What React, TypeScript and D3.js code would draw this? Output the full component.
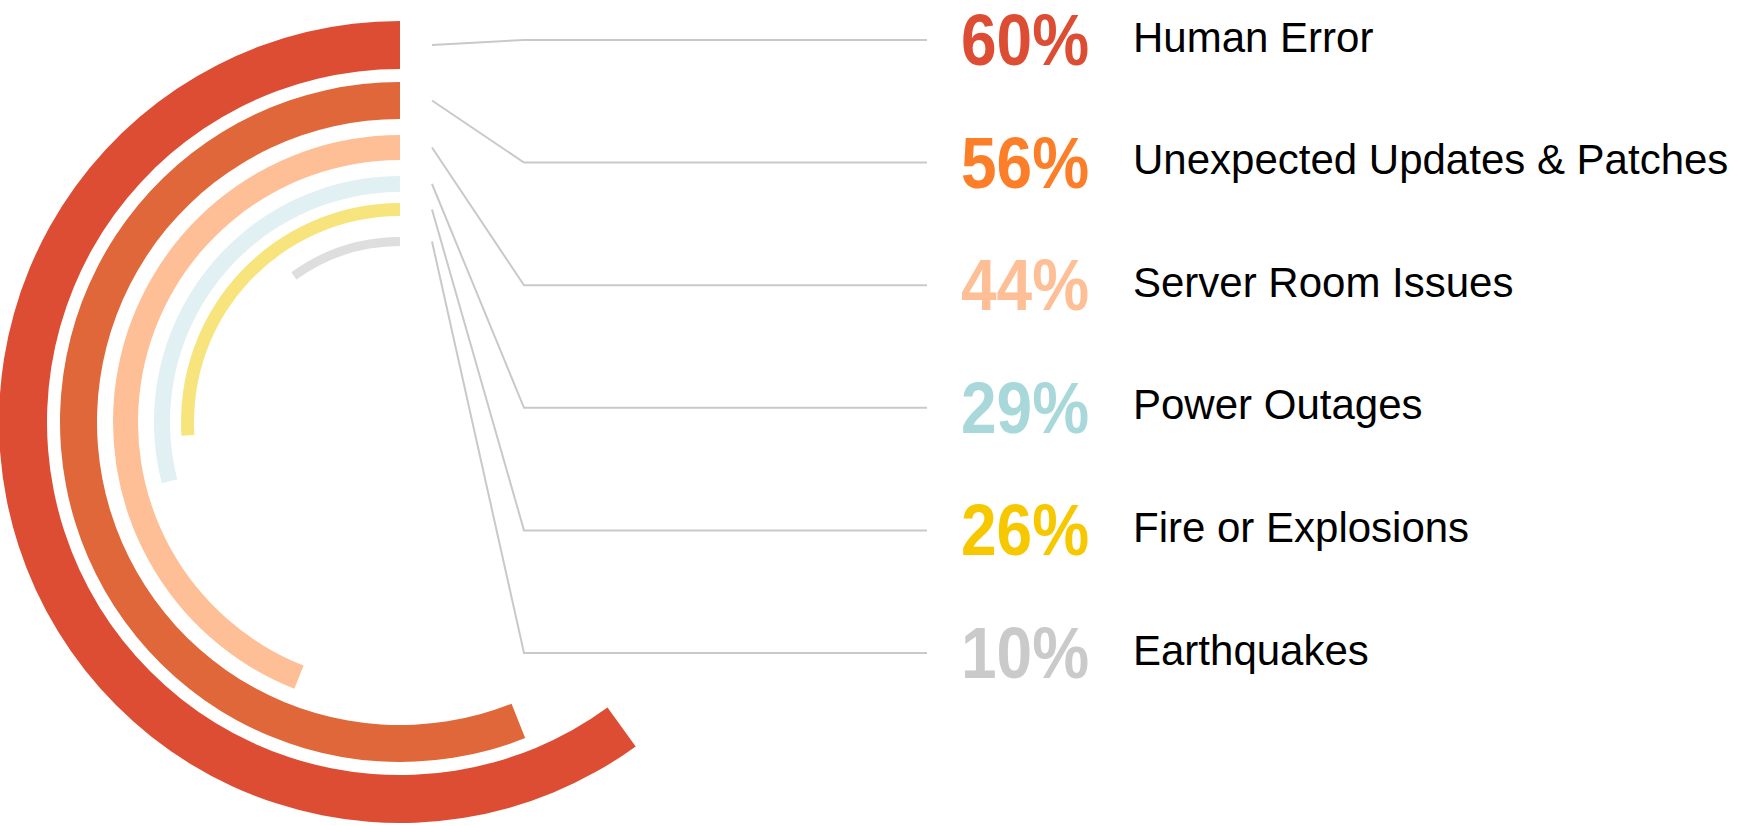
import React from "react";
import * as d3 from "d3";

// ---- data ----
const categories = [
  "Human Error",
  "Unexpected Updates & Patches",
  "Server Room Issues",
  "Power Outages",
  "Fire or Explosions",
  "Earthquakes",
];
const values = [60, 56, 44, 29, 26, 10];

// ---- styles / layout ----
const arcColors = ["#DD4D34", "#E0673A", "#FEBF96", "#E0F0F3", "#F7E47D", "#DEDEDE"];
const textColors = ["#DD4D34", "#FD7E28", "#FEBF96", "#A9D8DB", "#F7C800", "#CACACA"];
const ringOuter = [401, 340, 287, 246, 219, 185];
const ringWidth = [48, 37, 25, 16, 13, 9];

const W = 1739;
const H = 826;
const cx = 400;
const cy = 422;

export default function App() {
  const angle = d3.scaleLinear().domain([0, 100]).range([0, 2 * Math.PI]);
  const rowY = d3.scaleLinear().domain([0, categories.length - 1]).range([65, 678]);
  const arcGen = d3.arc<any>();
  const lineGen = d3.line();

  const leaderStartX = 432;
  const leaderBendX = 524;
  const leaderEndX = 927;
  const pctX = 961;
  const pctWidth = 128;
  const labelX = 1133;

  return (
    <svg
      width={W}
      height={H}
      style={{ position: "absolute", left: 0, top: 0, background: "#fff" }}
    >
      <g transform={`translate(${cx},${cy})`}>
        {values.map((v, i) => (
          <path
            key={"arc" + i}
            d={
              arcGen({
                innerRadius: ringOuter[i] - ringWidth[i],
                outerRadius: ringOuter[i],
                startAngle: -angle(v),
                endAngle: 0,
              }) as string
            }
            fill={arcColors[i]}
          />
        ))}
      </g>
      {values.map((v, i) => {
        const sy = cy - (ringOuter[i] - ringWidth[i] / 2);
        const ey = rowY(i) - 25;
        const d = lineGen([
          [leaderStartX, sy],
          [leaderBendX, ey],
          [leaderEndX, ey],
        ]) as string;
        return (
          <path
            key={"ln" + i}
            d={d}
            fill="none"
            stroke="#C9C9C9"
            strokeWidth={2}
          />
        );
      })}
      {values.map((v, i) => (
        <text
          key={"pct" + i}
          x={pctX}
          y={rowY(i)}
          fill={textColors[i]}
          fontFamily="'Liberation Sans', Arial, Helvetica, sans-serif"
          fontWeight="bold"
          fontSize={72}
          textLength={pctWidth}
          lengthAdjust="spacingAndGlyphs"
        >
          {`${v}%`}
        </text>
      ))}
      {categories.map((c, i) => (
        <text
          key={"lab" + i}
          x={labelX}
          y={rowY(i) - 13.5}
          fill="#000"
          fontFamily="'Liberation Sans', Arial, Helvetica, sans-serif"
          fontSize={42}
        >
          {c}
        </text>
      ))}
    </svg>
  );
}
